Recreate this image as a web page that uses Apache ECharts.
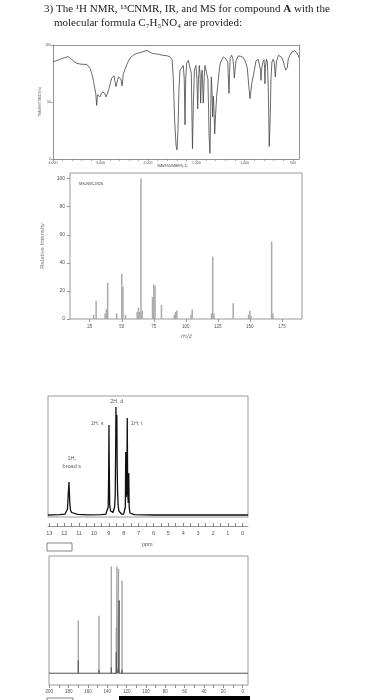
<!DOCTYPE html>
<html><head><meta charset="utf-8">
<script src="https://cdn.jsdelivr.net/npm/echarts@6/dist/echarts.min.js"></script>
<style>html,body{margin:0;padding:0;background:#fff}#c{width:370px;height:700px}</style>
</head><body><div id="c"></div>
<script>
// ---------- IR spectrum (wavenumber cm-1, transmittance %) ----------
const irWavenumber = [4000,3950,3850,3750,3680,3620,3560,3500,3430,3350,3290,3250,3220,3185,3150,3120,3100,3085,3080,3072,3059,3040,3011,2990,2976,2950,2926,2905,2884,2865,2849,2820,2790,2765,2740,2716,2695,2674,2650,2620,2589,2570,2547,2530,2519,2480,2449,2410,2379,2330,2274,2220,2168,2110,2063,2014,2000,
 1980,1950,1900,1850,1800,1770,1750,1738,1725,1710,1700,1690,1680,1669,1650,1635,1625,1617,1610,1600,1583,1565,1552,1540,1530,1520,1504,1494,1486,1478,1469,1462,1455,1448,1440,1428,1418,1411,1395,1380,1368,1359,1352,1345,1338,1331,1324,1318,1310,1300,1290,1273,1260,1248,1221,1195,1175,1168,1162,1156,1150,1135,1122,1115,1107,1100,1090,1066,1040,1014,995,973,958,945,935,925,915,900,883,860,842,836,831,826,815,800,794,790,786,775,765,755,746,740,734,728,718,705,695,688,683,678,670,650,630,615,601,590,575,566,560,548,532,510,480,460,446,440];
const irTransmittance = [85,86,87.5,89,89.8,88,85.5,84,83.3,83,83,81.5,79.5,75,69,62,57.5,50,47,52,56.5,55,54.5,57,58.5,59,60,57,54.5,56,58,62,67,71,72.5,73,68,63.5,68,72,73,70,64,70,75,79,82.5,86,88.3,90.5,92,92.8,93.3,94,94.7,95.4,94.5,
 93,92.5,92,91,90.5,89.5,87,70,35,12,8,25,60,78,80,82,70,30,70,84,86.5,86,75,9,50,78,82,70,44,70,82,75,49,72,78,49,72,82,81,70,20,5,40,72,60,37,55,45,22,40,55,69,80,85,89.5,88,85,70,57.5,75,88,91,88,82,71,78,86,90.5,90,89,86,80,65,53,60,67,71,78,86,87.5,86,78,69,78,84,87,80,66,80,87.5,85,60,11,25,43,70,85,87.5,85,78,72,78,86,91,91,89,86,82,78,76.5,80,88,91,94,95,93.5,91,89];
const irTickLabelsHigh = [4000,3000,2000];
const irTickLabelsLow = [1500,1000,500];

// ---------- Mass spectrum ----------
const msMz = [28,30,37,38,39,46,50,51,53,62,63,64,65,66,74,75,76,81,91,92,93,104,105,120,121,122,137,149,150,151,167,168];
const msIntensity = [3,13,4,7,26,4,32,23,3,5,8,5,100,6,15.6,24.5,23.7,10,3,5,6,3,7,4,44.4,4,11.3,3,6,2,55.2,4];
const msTickLabels = [25,50,75,100,125,150,175];
const msYTickLabels = [0,20,40,60,80,100];

// ---------- 1H NMR (ppm, relative height) ----------
const hnmrSpectrum = [[13.09,0],[12.3,0.3],[11.95,0.8],[11.85,2],[11.78,6],[11.73,20],[11.68,33],[11.63,14],[11.58,5],[11.5,2.5],[11.4,1.5],[11.1,0.6],[10.4,0.2],[9.5,0.3],[9.2,0.8],[9.1,2],[9.04,8],[9.01,40],[8.99,90],[8.97,50],[8.94,10],[8.88,4],[8.8,3],[8.72,2.5],[8.66,4],[8.61,8],[8.57,20],[8.54,65],[8.52,108],[8.49,70],[8.46,100],[8.44,50],[8.41,22],[8.37,9],[8.32,4],[8.25,2],[8.15,1],[8.0,0.8],[7.92,2],[7.89,8],[7.86,63],[7.83,18],[7.79,30],[7.76,97],[7.73,20],[7.69,12],[7.66,42],[7.63,8],[7.58,2],[7.5,1],[7.3,0.3],[6.0,0],[4.0,0],[2.0,0],[-0.36,0]];
const hnmrPeakLabels = ['1H,\nbroad s','1H, s','2H, d','1H, t'];
const hnmrLabelPpm = [11.49,9.79,8.47,7.13];
const hnmrLabelHeight = [53,92,114,92];
const hnmrTickLabels = [13,12,11,10,9,8,7,6,5,4,3,2,1,0];

// ---------- 13C NMR ----------
const c13Ppm = [170.0,148.6,135.9,130.7,130.0,128.3,127.8,124.8];
const c13Height = [45,49,91,39,91,89,62,79];
const c13DarkHeight = [11,3,5,18,4,3,62,3];
const c13TickLabels = [200,180,160,140,120,100,80,60,40,20,0];

// ---------- build data ----------
const irPairs = irWavenumber.map((w,i)=>[w, irTransmittance[i]]);
const irHigh = irPairs.filter(p=>p[0]>=2000);
const irLow = irPairs.filter(p=>p[0]<=2000);
const msData = msMz.map((m,i)=>[m, msIntensity[i]]);
const hnmrLabelData = hnmrLabelPpm.map((p,i)=>[p, hnmrLabelHeight[i], hnmrPeakLabels[i]]);
function sticks(ppms, heights){
  const idx = ppms.map((p,i)=>i).sort((a,b)=>ppms[b]-ppms[a]);
  const out = [[200.3,0]];
  idx.forEach(i=>{ out.push([ppms[i],0],[ppms[i],heights[i]],[ppms[i],0]); });
  out.push([-5.5,0]);
  return out;
}
const c13Data = sticks(c13Ppm, c13Height);
const c13DarkData = sticks(c13Ppm, c13DarkHeight);
const range = (a,b,s)=>{const r=[];for(let v=a;v<=b+1e-9;v+=s)r.push(+v.toFixed(3));return r;};

const sans = 'Liberation Sans';
const chart = echarts.init(document.getElementById('c'), null, {renderer:'canvas'});
chart.setOption({
  animation:false,
  backgroundColor:'#fff',
  title:[
    {text:'3) The \u00B9H NMR, \u00B9\u00B3CNMR, IR, and MS for compound {b|A} with the', left:44, top:4, padding:0,
     textStyle:{fontFamily:'Liberation Serif', fontSize:11, fontWeight:'normal', color:'#222',
       rich:{b:{fontFamily:'Liberation Serif', fontSize:11, fontWeight:'bold', color:'#222'}}}},
    {text:'molecular formula C\u2087H\u2085NO\u2084 are provided:', left:54, top:18, padding:0,
     textStyle:{fontFamily:'Liberation Serif', fontSize:11, fontWeight:'normal', color:'#222'}},
    {text:'WAVENUMBER(-1)', left:157, top:164, padding:0, textStyle:{fontFamily:sans, fontSize:3.5, fontWeight:'normal', color:'#555'}},
    {text:'MS-NW-2826', left:79, top:182, padding:0, textStyle:{fontFamily:sans, fontSize:4, fontWeight:'normal', color:'#444'}},
    {text:'m/z', left:181, top:333, padding:0, textStyle:{fontFamily:'DejaVu Sans', fontSize:6, fontStyle:'italic', fontWeight:'normal', color:'#777'}},
    {text:'ppm', left:142, top:541, padding:0, textStyle:{fontFamily:sans, fontSize:5.5, fontWeight:'normal', color:'#555'}}
  ],
  grid:[
    {left:53, top:45, width:95, height:114},
    {left:148, top:45, width:151, height:114},
    {left:70, top:173, width:232, height:146, show:true, borderColor:'#999', borderWidth:1},
    {left:48, top:396, width:200, height:121, show:true, borderColor:'#999', borderWidth:1},
    {left:49, top:556, width:199, height:129, show:true, borderColor:'#999', borderWidth:1}
  ],
  xAxis:[
    {gridIndex:0, type:'value', min:2000, max:4000, inverse:true, position:'bottom',
     axisLine:{onZero:false, lineStyle:{color:'#777', width:0.8}},
     axisTick:{length:2, customValues:range(2000,4000,200), lineStyle:{color:'#777', width:0.6}},
     axisLabel:{customValues:irTickLabelsHigh, fontSize:3.5, color:'#555', margin:2, fontFamily:sans},
     splitLine:{show:false}},
    {gridIndex:0, type:'value', min:2000, max:4000, inverse:true, position:'top',
     axisLine:{onZero:false, lineStyle:{color:'#777', width:0.8}}, axisTick:{show:false}, axisLabel:{show:false}, splitLine:{show:false}},
    {gridIndex:1, type:'value', min:438, max:2000, inverse:true, position:'bottom',
     axisLine:{onZero:false, lineStyle:{color:'#777', width:0.8}},
     axisTick:{length:2, customValues:range(500,1900,100), lineStyle:{color:'#777', width:0.6}},
     axisLabel:{customValues:irTickLabelsLow, fontSize:3.5, color:'#555', margin:2, fontFamily:sans},
     splitLine:{show:false}},
    {gridIndex:1, type:'value', min:438, max:2000, inverse:true, position:'top',
     axisLine:{onZero:false, lineStyle:{color:'#777', width:0.8}}, axisTick:{show:false}, axisLabel:{show:false}, splitLine:{show:false}},
    {gridIndex:2, type:'value', min:9.6, max:190.7,
     axisLine:{show:false, onZero:false},
     axisTick:{length:3, customValues:msTickLabels, lineStyle:{color:'#888', width:0.8}},
     axisLabel:{customValues:msTickLabels, fontSize:4.5, color:'#555', margin:5, fontFamily:sans},
     splitLine:{show:false}},
    {gridIndex:3, type:'value', min:-0.36, max:13.09, inverse:true, offset:9,
     axisLine:{onZero:false, lineStyle:{color:'#777', width:0.8}},
     axisTick:{inside:true, length:3, customValues:range(0,13,0.5), lineStyle:{color:'#666', width:0.8}},
     axisLabel:{customValues:hnmrTickLabels, fontSize:5.5, color:'#555', margin:4, fontFamily:sans},
     splitLine:{show:false}},
    {gridIndex:4, type:'value', min:-5.5, max:200.3, inverse:true,
     axisLine:{show:false, onZero:false},
     axisTick:{length:3, customValues:range(0,200,10), lineStyle:{color:'#777', width:0.8}},
     axisLabel:{customValues:c13TickLabels, fontSize:4.5, color:'#555', margin:4, fontFamily:sans},
     splitLine:{show:false}}
  ],
  yAxis:[
    {gridIndex:0, type:'value', min:0, max:100, position:'left',
     axisLine:{show:true, onZero:false, lineStyle:{color:'#777', width:0.8}},
     axisTick:{length:2, customValues:[0,50,100], lineStyle:{color:'#777', width:0.6}},
     axisLabel:{customValues:[0,50,100], fontSize:3.5, color:'#555', margin:2, fontFamily:sans},
     name:'TRANSMITTANCE[%]', nameLocation:'middle', nameGap:9, nameRotate:90,
     nameTextStyle:{fontSize:3, color:'#666', fontFamily:sans},
     splitLine:{show:false}},
    {gridIndex:1, type:'value', min:0, max:100, position:'right',
     axisLine:{show:true, onZero:false, lineStyle:{color:'#777', width:0.8}}, axisTick:{show:false}, axisLabel:{show:false}, splitLine:{show:false}},
    {gridIndex:2, type:'value', min:0, max:104,
     axisLine:{show:false, onZero:false},
     axisTick:{length:3, customValues:msYTickLabels, lineStyle:{color:'#777', width:0.8}},
     axisLabel:{customValues:msYTickLabels, fontSize:5, color:'#555', margin:5, fontFamily:sans},
     name:'Relative Intensity', nameLocation:'middle', nameGap:25, nameRotate:90,
     nameTextStyle:{fontSize:6, color:'#777', fontFamily:sans},
     splitLine:{show:false}},
    {gridIndex:3, type:'value', min:-2, max:119, show:false},
    {gridIndex:4, type:'value', min:-10, max:100, show:false}
  ],
  series:[
    {type:'line', xAxisIndex:0, yAxisIndex:0, data:irHigh, symbol:'none', lineStyle:{color:'#444', width:0.8}},
    {type:'line', xAxisIndex:2, yAxisIndex:1, data:irLow, symbol:'none', lineStyle:{color:'#444', width:0.8}},
    {type:'bar', xAxisIndex:4, yAxisIndex:2, data:msData, barWidth:1.5, itemStyle:{color:'#aaa'}},
    {type:'line', xAxisIndex:5, yAxisIndex:3, data:hnmrSpectrum, symbol:'none', lineStyle:{color:'#111', width:1.3}},
    {type:'scatter', xAxisIndex:5, yAxisIndex:3, data:hnmrLabelData, symbolSize:0,
     label:{show:true, position:'inside', formatter:p=>p.data[2], fontSize:5.5, lineHeight:8, color:'#333', fontFamily:sans}},
    {type:'line', xAxisIndex:6, yAxisIndex:4, data:c13Data, symbol:'none', lineStyle:{color:'#999', width:0.8}},
    {type:'line', xAxisIndex:6, yAxisIndex:4, data:c13DarkData, symbol:'none', lineStyle:{color:'#555', width:0.8}}
  ],
  graphic:[
    {type:'rect', shape:{x:47, y:543, width:25, height:8}, style:{fill:'#fff', stroke:'#666', lineWidth:0.8}},
    {type:'rect', shape:{x:47, y:698, width:26, height:6}, style:{fill:'#fff', stroke:'#666', lineWidth:0.8}},
    {type:'rect', shape:{x:119, y:696, width:131, height:6}, style:{fill:'#000'}}
  ]
});
</script></body></html>
